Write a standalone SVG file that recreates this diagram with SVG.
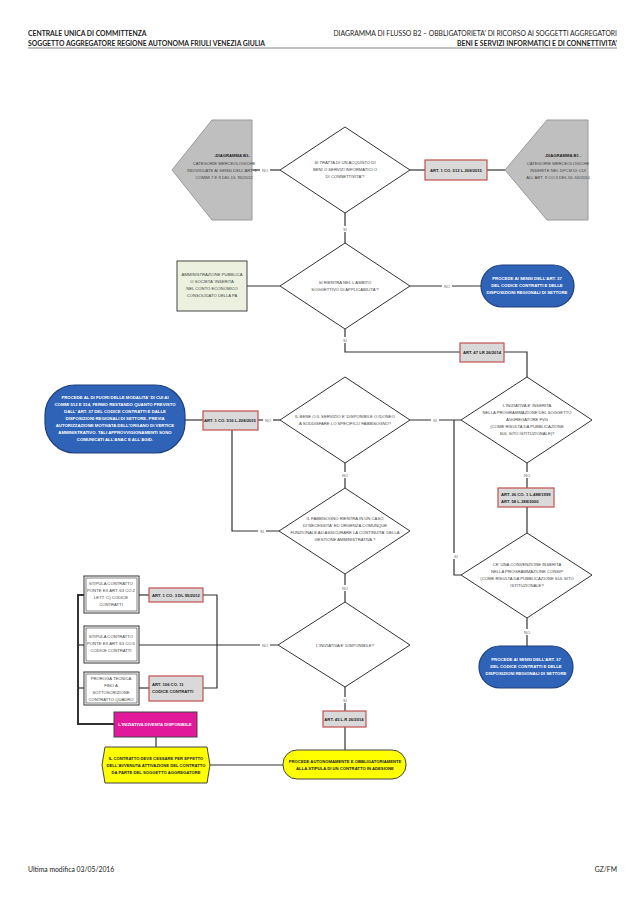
<svg xmlns="http://www.w3.org/2000/svg" width="638" height="903" viewBox="0 0 638 903">
<style>
.h{font-family:Lato,"Liberation Sans",sans-serif;font-size:6.8px;fill:#222}
.t{font-family:"Liberation Sans",sans-serif;font-size:4.2px;fill:#444;text-anchor:middle}
.b{font-family:"Liberation Sans",sans-serif;font-size:4.2px;font-weight:bold;fill:#222;text-anchor:middle}
.s{text-anchor:start}
.w{font-family:"Liberation Sans",sans-serif;font-size:4.3px;font-weight:bold;fill:#fff;text-anchor:middle}
.l{font-family:"Liberation Sans",sans-serif;font-size:4px;fill:#666;text-anchor:middle}
.d{fill:#fff;stroke:#333;stroke-width:1}
.g{fill:#bfbfbf;stroke:#999;stroke-width:1}
.a{fill:#d9d9d9;stroke:#c0504d;stroke-width:1.2}
.bl{fill:#2f63b8;stroke:#1f3f7a;stroke-width:1.2}
.k{fill:none;stroke:#333;stroke-width:1.2}
.bx{fill:#fff;stroke:#333;stroke-width:1}
</style>
<rect width="638" height="903" fill="#fff"/>
<g id="header">
<text class="h" x="28" y="36" font-weight="bold">CENTRALE UNICA DI COMMITTENZA</text>
<text class="h" x="28" y="46" font-weight="bold">SOGGETTO AGGREGATORE REGIONE AUTONOMA FRIULI VENEZIA GIULIA</text>
<line x1="28" y1="48" x2="617" y2="48" stroke="#333" stroke-width="0.6"/>
<text class="h" x="617" y="36" text-anchor="end">DIAGRAMMA DI FLUSSO B2 – OBBLIGATORIETA' DI RICORSO AI SOGGETTI AGGREGATORI</text>
<text class="h" x="617" y="46" text-anchor="end" font-weight="bold">BENI E SERVIZI INFORMATICI E DI CONNETTIVITA'</text>
<text class="h" x="28" y="872">Ultima modifica 03/05/2016</text>
<text class="h" x="617" y="872" text-anchor="end">GZ/FM</text>
</g>
<g id="connectors" class="k">
<line x1="252" y1="170" x2="280" y2="170"/>
<line x1="410" y1="170" x2="425" y2="170"/>
<line x1="487" y1="170" x2="505" y2="170"/>
<line x1="345" y1="213" x2="345" y2="243"/>
<line x1="247" y1="286" x2="280" y2="286"/>
<line x1="410" y1="286" x2="481" y2="286"/>
<polyline points="345,329 345,352 527,352 527,377"/>
<line x1="185" y1="420" x2="203" y2="420"/>
<line x1="258" y1="420" x2="280" y2="420"/>
<line x1="410" y1="420" x2="461" y2="420"/>
<polyline points="454,420 454,575 461,575"/>
<line x1="345" y1="463" x2="345" y2="488"/>
<polyline points="280,531 232,531 232,430"/>
<line x1="527" y1="463" x2="527" y2="488"/>
<line x1="527" y1="507" x2="527" y2="533"/>
<line x1="527" y1="618" x2="527" y2="646"/>
<line x1="345" y1="574" x2="345" y2="602"/>
<line x1="345" y1="687" x2="345" y2="711"/>
<line x1="345" y1="727" x2="345" y2="750"/>
<line x1="210" y1="765" x2="283" y2="765"/>
<line x1="156" y1="737" x2="156" y2="747"/>
<line x1="278" y1="645" x2="139" y2="645"/>
<polyline points="203,595 217,595 217,688 203,688"/>
<line x1="139" y1="595" x2="149" y2="595"/>
<line x1="139" y1="688" x2="149" y2="688"/>
<polyline points="84,595 78,595 78,724 114,724" stroke-width="2"/>
<line x1="78" y1="645" x2="84" y2="645"/>
<line x1="78" y1="688" x2="84" y2="688"/>
</g>
<g id="labels">
<rect x="260" y="167" width="10" height="6" fill="#fff"/><text class="l" x="265" y="172">NO</text>
<rect x="341" y="226" width="8" height="6" fill="#fff"/><text class="l" x="345" y="231">SI</text>
<rect x="442" y="283" width="10" height="6" fill="#fff"/><text class="l" x="447" y="288">NO</text>
<rect x="341" y="337" width="8" height="6" fill="#fff"/><text class="l" x="345" y="342">SI</text>
<rect x="263" y="417" width="10" height="6" fill="#fff"/><text class="l" x="268" y="422">NO</text>
<rect x="431" y="417" width="8" height="6" fill="#fff"/><text class="l" x="435" y="422">SI</text>
<rect x="452" y="553" width="8" height="6" fill="#fff"/><text class="l" x="456" y="558">SI</text>
<rect x="340" y="472" width="10" height="6" fill="#fff"/><text class="l" x="345" y="477">NO</text>
<rect x="522" y="472" width="10" height="6" fill="#fff"/><text class="l" x="527" y="477">NO</text>
<rect x="258" y="528" width="8" height="6" fill="#fff"/><text class="l" x="262" y="533">SI</text>
<rect x="522" y="629" width="10" height="6" fill="#fff"/><text class="l" x="527" y="634">NO</text>
<rect x="340" y="585" width="10" height="6" fill="#fff"/><text class="l" x="345" y="590">NO</text>
<rect x="260" y="642" width="10" height="6" fill="#fff"/><text class="l" x="265" y="647">NO</text>
<rect x="341" y="697" width="8" height="6" fill="#fff"/><text class="l" x="345" y="702">SI</text>
</g>
<g id="b3">
<polygon class="g" points="212,120 252,120 252,220 212,220 172,170"/>
<text class="b" x="232" y="157">-DIAGRAMMA B3-</text>
<text class="t" x="224" y="165">CATEGORIE MERCEOLOGICHE</text>
<text class="t" x="222" y="172">INDIVIDUATE AI SENSI DELL'ART. 1</text>
<text class="t" x="224" y="179">COMMI 7 E 9 DEL DL 95/2012</text>
</g>
<g id="q1">
<polygon class="d" points="345,127 410,170 345,213 280,170"/>
<text class="t" x="345" y="164">SI TRATTA DI UN ACQUISTO DI</text>
<text class="t" x="345" y="171">BENI O SERVIZI INFORMATICI O</text>
<text class="t" x="345" y="178">DI CONNETTIVITA'?</text>
</g>
<g id="art512"><rect class="a" x="425" y="160" width="62" height="20"/><text class="b" x="456" y="172">ART. 1 CO. 512 L.208/2015</text></g>
<g id="b1">
<polygon class="g" points="547,120 588,120 588,220 547,220 505,170"/>
<text class="b" x="563" y="157">-DIAGRAMMA B1 -</text>
<text class="t" x="558" y="165">CATEGORIE MERCEOLOGICHE</text>
<text class="t" x="558" y="172">INSERITE NEL DPCM DI CUI</text>
<text class="t" x="558" y="179">ALL'ART. 9 CO.3 DEL DL 66/2014</text>
</g>
<g id="pa">
<rect x="177" y="261" width="70" height="50" fill="#ebf1de" stroke="#444"/>
<text class="t" x="212" y="276">AMMINISTRAZIONE PUBBLICA</text>
<text class="t" x="212" y="283">O SOCIETA' INSERITA</text>
<text class="t" x="212" y="290">NEL CONTO ECONOMICO</text>
<text class="t" x="212" y="297">CONSOLIDATO DELLA PA</text>
</g>
<g id="q2">
<polygon class="d" points="345,243 410,286 345,329 280,286"/>
<text class="t" x="345" y="284">SI RIENTRA NEL L'AMBITO</text>
<text class="t" x="345" y="291">SOGGETTIVO DI APPLICABILITA'?</text>
</g>
<g id="proc1">
<rect class="bl" x="481" y="265" width="93" height="42" rx="21"/>
<text class="w" x="527" y="280">PROCEDE AI SENSI DELL'ART. 37</text>
<text class="w" x="527" y="287">DEL CODICE CONTRATTI E DELLE</text>
<text class="w" x="527" y="294">DISPOSIZIONI REGIONALI DI SETTORE</text>
</g>
<g id="art47"><rect class="a" x="460" y="343" width="44" height="19"/><text class="b" x="482" y="354">ART. 47 LR 26/2014</text></g>
<g id="procfuori">
<rect class="bl" x="45" y="385" width="140" height="68" rx="30"/>
<text class="w" x="115" y="399">PROCEDE AL DI FUORI DELLE MODALITA' DI CUI AI</text>
<text class="w" x="115" y="406">COMMI 512 E 514, FERMO RESTANDO QUANTO PREVISTO</text>
<text class="w" x="115" y="413">DALL' ART. 37 DEL CODICE CONTRATTI E DALLE</text>
<text class="w" x="115" y="420">DISPOSIZIONI REGIONALI DI SETTORE, PREVIA</text>
<text class="w" x="115" y="427">AUTORIZZAZIONE MOTIVATA DELL'ORGANO DI VERTICE</text>
<text class="w" x="115" y="434">AMMINISTRATIVO. TALI APPROVVIGIONAMENTI SONO</text>
<text class="w" x="115" y="441">COMUNICATI ALL'ANAC E ALL'AGID.</text>
</g>
<g id="art516"><rect class="a" x="203" y="411" width="55" height="19"/><text class="b" x="230" y="422">ART. 1 CO. 516 L.208/2015</text></g>
<g id="q3">
<polygon class="d" points="345,377 410,420 345,463 280,420"/>
<text class="t" x="345" y="418">IL BENE O IL SERVIZIO E' DISPONIBILE O IDONEO</text>
<text class="t" x="345" y="425">A SODDISFARE LO SPECIFICO FABBISOGNO?</text>
</g>
<g id="q4">
<polygon class="d" points="527,377 592,420 527,463 461,420"/>
<text class="t" x="527" y="407">L'INIZIATIVA E' INSERITA</text>
<text class="t" x="527" y="414">NELLA PROGRAMMAZIONE DEL SOGGETTO</text>
<text class="t" x="527" y="421">AGGREGATORE FVG</text>
<text class="t" x="527" y="428">(COME RISULTA DA PUBBLICAZIONE</text>
<text class="t" x="527" y="435">SUL SITO ISTITUZIONALE)?</text>
</g>
<g id="art26"><rect class="a" x="498" y="488" width="56" height="19"/>
<text class="b s" x="501" y="496">ART. 26 CO. 1 L.488/1999</text>
<text class="b s" x="501" y="503">ART. 58 L.388/2000</text></g>
<g id="q5">
<polygon class="d" points="345,488 410,531 345,574 279,531"/>
<text class="t" x="345" y="520">IL FABBISOGNO RIENTRA IN UN CASO</text>
<text class="t" x="345" y="527">DI NECESSITA' ED URGENZA COMUNQUE</text>
<text class="t" x="345" y="534">FUNZIONALE AD ASSICURARE LA CONTINUITA' DELLA</text>
<text class="t" x="345" y="541">GESTIONE AMMINISTRATIVA ?</text>
</g>
<g id="q6">
<polygon class="d" points="527,533 592,575 527,618 461,575"/>
<text class="t" x="527" y="566">CE' UNA CONVENZIONE INSERITA</text>
<text class="t" x="527" y="573">NELLA PROGRAMMAZIONE CONSIP</text>
<text class="t" x="527" y="580">(COME RISULTA DA PUBBLICAZIONE SUL SITO</text>
<text class="t" x="527" y="587">ISTITUZIONALE?</text>
</g>
<g id="proc2">
<rect class="bl" x="479" y="646" width="94" height="42" rx="21"/>
<text class="w" x="526" y="661">PROCEDE AI SENSI DELL'ART. 37</text>
<text class="w" x="526" y="668">DEL CODICE CONTRATTI E DELLE</text>
<text class="w" x="526" y="675">DISPOSIZIONI REGIONALI DI SETTORE</text>
</g>
<g id="s1"><rect class="bx" x="84" y="576" width="55" height="37"/><rect x="86" y="578" width="51" height="33" fill="none" stroke="#333" stroke-width="0.6"/>
<text class="t" x="111" y="585">STIPULA CONTRATTO</text><text class="t" x="111" y="592">PONTE EX ART. 63 CO.2</text><text class="t" x="111" y="599">LETT. C) CODICE</text><text class="t" x="111" y="606">CONTRATTI</text></g>
<g id="art13"><rect class="a" x="149" y="588" width="54" height="14"/><text class="b" x="176" y="597">ART. 1 CO. 3 DL 95/2012</text></g>
<g id="s2"><rect class="bx" x="84" y="626" width="55" height="37"/><rect x="86" y="628" width="51" height="33" fill="none" stroke="#333" stroke-width="0.6"/>
<text class="t" x="111" y="638">STIPULA CONTRATTO</text><text class="t" x="111" y="645">PONTE EX ART. 63 CO.5</text><text class="t" x="111" y="652">CODICE CONTRATTI</text></g>
<g id="s3"><rect class="bx" x="84" y="672" width="55" height="33"/><rect x="86" y="674" width="51" height="29" fill="none" stroke="#333" stroke-width="0.6"/>
<text class="t" x="111" y="680">PROROGA TECNICA</text><text class="t" x="111" y="687">FINO A</text><text class="t" x="111" y="694">SOTTOSCRIZIONE</text><text class="t" x="111" y="701">CONTRATTO QUADRO</text></g>
<g id="art106"><rect class="a" x="149" y="676" width="54" height="25"/>
<text class="b s" x="152" y="686">ART. 106 CO. 11</text><text class="b s" x="152" y="693">CODICE CONTRATTI</text></g>
<g id="q7">
<polygon class="d" points="345,602 410,645 345,687 278,645"/>
<text class="t" x="345" y="647">L'INIZIATIVA E' DISPONIBILE?</text>
</g>
<g id="art45"><rect class="a" x="323" y="711" width="43" height="16"/><text class="b" x="344" y="721">ART. 45 L.R 26/2014</text></g>
<g id="magenta"><rect x="114" y="712" width="83" height="25" fill="#e3199b" stroke="#444"/><text class="w" x="155" y="726">L'INIZIATIVA DIVENTA DISPONIBILE</text></g>
<g id="hex">
<polygon points="105,747 207,747 210,765 207,783 105,783 102,765" fill="#ffff00" stroke="#444"/>
<text class="b" x="156" y="760">IL CONTRATTO DEVE CESSARE PER EFFETTO</text>
<text class="b" x="156" y="767">DELL'AVVENUTA ATTIVAZIONE DEL CONTRATTO</text>
<text class="b" x="156" y="774">DA PARTE DEL SOGGETTO AGGREGATORE</text>
</g>
<g id="adesione">
<rect x="283" y="750" width="123" height="29" rx="14" fill="#ffff00" stroke="#444"/>
<text class="b" x="345" y="763">PROCEDE AUTONOMAMENTE E OBBLIGATORIAMENTE</text>
<text class="b" x="345" y="770">ALLA STIPULA DI UN CONTRATTO IN ADESIONE</text>
</g>
</svg>
